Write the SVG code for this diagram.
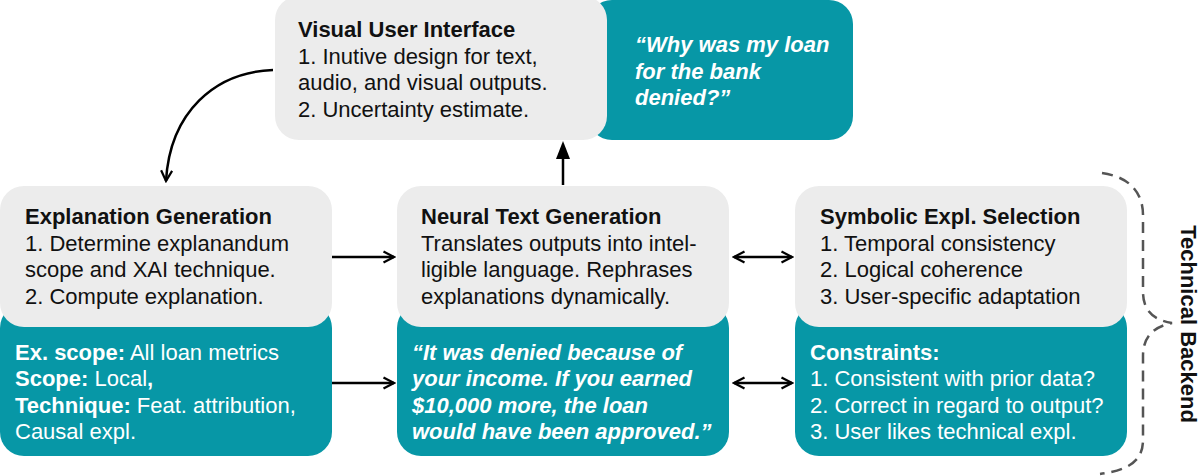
<svg xmlns="http://www.w3.org/2000/svg" width="1200" height="476" viewBox="0 0 1200 476">
<defs>
<style>
.gray{fill:#ececec}
.teal{fill:#0797a6}
.t{font-family:"Liberation Sans",Arial,Helvetica,sans-serif;font-size:22px;fill:#111}
.w{fill:#fff}
.b{font-weight:bold}
.q{font-weight:bold;font-style:italic}
.ln{stroke:#000;stroke-width:2.5;fill:none}
.brace{stroke:#555;stroke-width:2.5;fill:none;stroke-dasharray:11 7}
</style>
<marker id="chev" viewBox="0 0 14 14" refX="12" refY="7" markerWidth="14" markerHeight="14" markerUnits="userSpaceOnUse" orient="auto-start-reverse">
<path d="M1.5,1.5 L12,7 L1.5,12.5" fill="none" stroke="#000" stroke-width="2.2" stroke-linejoin="miter"/>
</marker>
</defs>
<rect width="1200" height="476" fill="#fff"/>

<g id="ui">
<rect class="teal" x="588" y="0" width="265" height="140" rx="24"/>
<rect class="gray" x="275" y="-4" width="332" height="144" rx="24"/>
<text class="t"><tspan class="b" x="298" y="37">Visual User Interface</tspan><tspan x="298" y="63.7">1. Inutive design for text,</tspan><tspan x="298" y="90.3">audio, and visual outputs.</tspan><tspan x="298" y="117">2. Uncertainty estimate.</tspan></text>
<text class="t w q"><tspan x="635" y="52">“Why was my loan</tspan><tspan x="635" y="78.5">for the bank</tspan><tspan x="635" y="105">denied?”</tspan></text>
</g>

<g id="explanation">
<rect class="teal" x="0" y="304" width="332" height="152" rx="24"/>
<rect class="gray" x="0" y="186" width="332" height="141" rx="24"/>
<text class="t"><tspan class="b" x="25" y="224">Explanation Generation</tspan><tspan x="25" y="250.7">1. Determine explanandum</tspan><tspan x="25" y="277.3">scope and XAI technique.</tspan><tspan x="25" y="304">2. Compute explanation.</tspan></text>
<text class="t w"><tspan x="15" y="360"><tspan class="b">Ex. scope:</tspan> All loan metrics</tspan><tspan x="15" y="386.3"><tspan class="b">Scope:</tspan> Local<tspan class="b">,</tspan></tspan><tspan x="15" y="412.6"><tspan class="b">Technique:</tspan> Feat. attribution,</tspan><tspan x="15" y="439">Causal expl.</tspan></text>
</g>

<g id="neural">
<rect class="teal" x="397" y="304" width="332" height="152" rx="24"/>
<rect class="gray" x="397" y="186" width="332" height="141" rx="24"/>
<text class="t"><tspan class="b" x="421" y="224">Neural Text Generation</tspan><tspan x="421" y="250.7">Translates outputs into intel-</tspan><tspan x="421" y="277.3">ligible language. Rephrases</tspan><tspan x="421" y="304">explanations dynamically.</tspan></text>
<text class="t w q"><tspan x="412" y="360">“It was denied because of</tspan><tspan x="412" y="386.3">your income. If you earned</tspan><tspan x="412" y="412.6">$10,000 more, the loan</tspan><tspan x="412" y="439">would have been approved.”</tspan></text>
</g>

<g id="symbolic">
<rect class="teal" x="795" y="304" width="332" height="152" rx="24"/>
<rect class="gray" x="795" y="186" width="332" height="141" rx="24"/>
<text class="t"><tspan class="b" x="820" y="224">Symbolic Expl. Selection</tspan><tspan x="820" y="250.7">1. Temporal consistency</tspan><tspan x="820" y="277.3">2. Logical coherence</tspan><tspan x="820" y="304">3. User-specific adaptation</tspan></text>
<text class="t w"><tspan class="b" x="810" y="360">Constraints:</tspan><tspan x="810" y="386.3">1. Consistent with prior data?</tspan><tspan x="810" y="412.6">2. Correct in regard to output?</tspan><tspan x="810" y="439">3. User likes technical expl.</tspan></text>
</g>

<g id="backend">
<path class="brace" d="M1102,173 C1130,177 1143,193 1143,215 L1143,292 C1143,310 1153,320 1172,323 C1153,327 1143,337 1143,356 L1143,440 C1143,460 1130,470 1100,474"/>
<text class="t b" font-size="21" text-anchor="middle" transform="translate(1181,324) rotate(90)">Technical Backend</text>
</g>

<g id="connectors">
<path class="ln" d="M273,70 C215,72 170,112 166,181" marker-end="url(#chev)"/>
<line class="ln" x1="563" y1="185" x2="563" y2="156"/>
<polygon points="563,141 556,159 570,159" fill="#000"/>
<line class="ln" x1="332" y1="257" x2="394" y2="257" marker-end="url(#chev)"/>
<line class="ln" x1="332" y1="383" x2="394" y2="383" marker-end="url(#chev)"/>
<line class="ln" x1="734" y1="257" x2="792" y2="257" marker-start="url(#chev)" marker-end="url(#chev)"/>
<line class="ln" x1="734" y1="383" x2="792" y2="383" marker-start="url(#chev)" marker-end="url(#chev)"/>
</g>
</svg>
